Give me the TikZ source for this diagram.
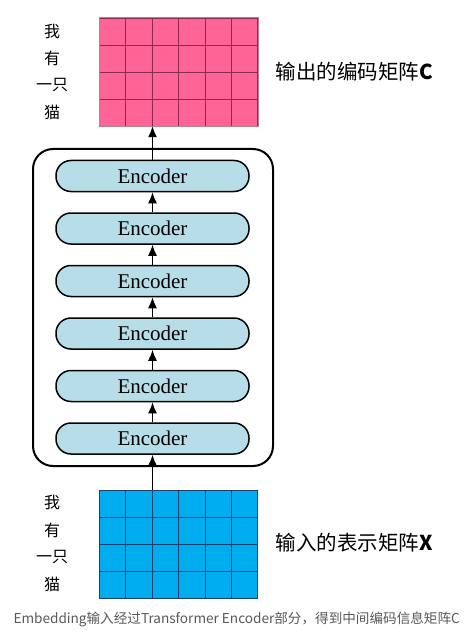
\documentclass[tikz,border=0pt]{standalone}
\usepackage{fontspec}
\setmainfont{Liberation Serif}
\newfontfamily\cjk{Noto Sans CJK SC}
\usetikzlibrary{arrows.meta,positioning}

\definecolor{pinkcell}{HTML}{FF6496}
\definecolor{pinkline}{HTML}{8C2A52}
\definecolor{bluecell}{HTML}{00AEEF}
\definecolor{blueline}{HTML}{1F3F6E}
\definecolor{encblue}{HTML}{B7DEE8}
\definecolor{capgray}{HTML}{595959}

\tikzset{
 enc/.style={draw, line width=1.5pt, fill=encblue, rounded corners=15pt,
   minimum width=193pt, minimum height=31pt, inner sep=0pt,
   font=\fontsize{21}{23}\selectfont},
 up/.style={line width=1.4pt, -{Latex[length=11pt,width=9pt]}},
 word/.style={font=\cjk\fontsize{16}{17}\selectfont},
 mat/.style={minimum width=158.4pt, minimum height=108pt, inner sep=0pt},
 title/.style={anchor=west, font=\cjk\fontsize{20.5}{22}\selectfont}
}

\begin{document}
\begin{tikzpicture}[x=1pt, y=-1pt]
\useasboundingbox [fill=white] (0,0) rectangle (474,639);

% output matrix C
\node [mat, fill=pinkcell] (outmat) at (178.7,72) {};
\begin{scope}[shift={(outmat.south west)}]
\draw [pinkline, line width=0.8pt, xstep=26.4pt, ystep=27pt] (0pt,0pt) grid (158.4pt,108pt);
\end{scope}
\draw [pinkline!60, line width=0.8pt] (outmat.south west) rectangle (outmat.north east);

\node [word] (w1) at (52,32) {我};
\node [word] (w2) at (52,58) {有};
\node [word] (w3) at (52,85) {一只};
\node [word] (w4) at (52,112) {猫};

\node [title] (outtxt) at (272,72) {输出的编码矩阵\textbf{C}};

% the encoder stack
\draw [line width=2pt, rounded corners=20pt] (33,149) rectangle (273,466);

\node [enc] (enc1) at (152.5,176) {Encoder};
\node [enc, below=20pt of enc1] (enc2) {Encoder};
\node [enc, below=20pt of enc2] (enc3) {Encoder};
\node [enc, below=20pt of enc3] (enc4) {Encoder};
\node [enc, below=20pt of enc4] (enc5) {Encoder};
\node [enc, below=20pt of enc5] (enc6) {Encoder};

\draw [up] (enc6) -- (enc5);
\draw [up] (enc5) -- (enc4);
\draw [up] (enc4) -- (enc3);
\draw [up] (enc3) -- (enc2);
\draw [up] (enc2) -- (enc1);
\draw [up] (enc1.north) -- (enc1.north |- outmat.south);

% input matrix X
\node [mat, fill=bluecell] (inmat) at (178.7,544) {};
\begin{scope}[shift={(inmat.south west)}]
\draw [blueline, line width=0.8pt, xstep=26.4pt, ystep=27pt] (0pt,0pt) grid (158.4pt,108pt);
\end{scope}

\draw [up] (enc6.south |- inmat.north) -- (enc6.south);

\node [word] (v1) at (52,503) {我};
\node [word] (v2) at (52,530) {有};
\node [word] (v3) at (52,557) {一只};
\node [word] (v4) at (52,584) {猫};

\node [title] (intxt) at (272,543) {输入的表示矩阵\textbf{X}};

% caption
\node [anchor=west, capgray, font=\cjk\fontsize{13.6}{16}\selectfont] (cap) at (10,619)
 {Embedding输入经过Transformer Encoder部分，得到中间编码信息矩阵C};

\end{tikzpicture}
\end{document}
